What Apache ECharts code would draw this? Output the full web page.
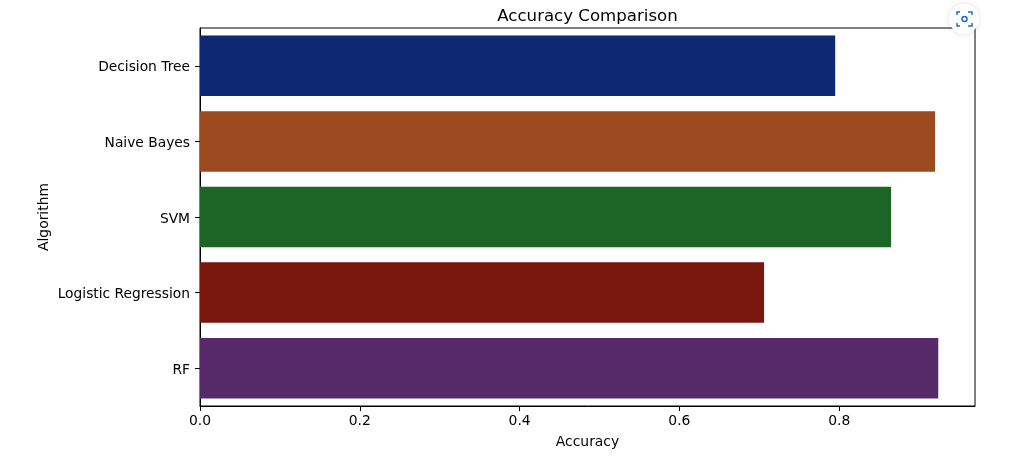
<!DOCTYPE html>
<html>
<head>
<meta charset="utf-8">
<style>
  html, body { margin: 0; padding: 0; background: #fff; }
  #chart { width: 1034px; height: 466px; }
</style>
<script src="https://cdn.jsdelivr.net/npm/echarts@6/dist/echarts.min.js"></script>
</head>
<body>
<div id="chart"></div>
<script>
  var algorithms = ['Decision Tree', 'Naive Bayes', 'SVM', 'Logistic Regression', 'RF'];
  var accuracy = [0.795, 0.920, 0.865, 0.706, 0.924];
  var barColors = ['#0e2873', '#9c4920', '#1d6525', '#79170f', '#562a68'];
  var font = 'DejaVu Sans';
  var iconBlue = '#1f6fc0';

  var chart = echarts.init(document.getElementById('chart'));
  chart.setOption({
    animation: false,
    title: {
      text: 'Accuracy Comparison',
      left: 582.5, top: 3, textAlign: 'center',
      textStyle: { fontFamily: font, fontSize: 16.6, fontWeight: 'normal', color: '#000' }
    },
    grid: { left: 200, top: 28, width: 775, height: 378, show: true, borderColor: '#000', borderWidth: 1, backgroundColor: 'transparent' },
    xAxis: {
      type: 'value', min: 0, max: 0.97, interval: 0.2,
      name: 'Accuracy', nameLocation: 'middle', nameGap: 29,
      nameTextStyle: { fontFamily: font, fontSize: 13.9, color: '#000' },
      axisLine: { show: true, lineStyle: { color: '#000', width: 1 } },
      axisTick: { show: true, length: 5, lineStyle: { color: '#000' } },
      axisLabel: { fontFamily: font, fontSize: 13.9, color: '#000', margin: 8,
        showMaxLabel: false,
        formatter: function (v) { return v.toFixed(1); } },
      splitLine: { show: false }
    },
    yAxis: {
      type: 'category', inverse: true, data: algorithms,
      name: 'Algorithm', nameLocation: 'middle', nameGap: 149, nameMoveOverlap: false,
      nameTextStyle: { fontFamily: font, fontSize: 13.9, color: '#000' },
      axisLine: { show: true, lineStyle: { color: '#000', width: 1 } },
      axisTick: { show: true, alignWithLabel: true, length: 5, lineStyle: { color: '#000' } },
      axisLabel: { color: '#000', margin: 10,
        formatter: function (v) { return '{a|' + v + '}'; },
        rich: { a: { fontFamily: font, fontSize: 13.8, color: '#000', padding: [4, 0, 0, 0] } } },
      splitLine: { show: false }
    },
    series: [{
      type: 'bar',
      barWidth: '80%',
      data: accuracy.map(function (v, i) {
        return { value: v, itemStyle: { color: barColors[i] } };
      })
    }],
    // the round screenshot button sitting on the top right corner
    graphic: [
      { type: 'circle', z: 100, shape: { cx: 964, cy: 19, r: 15 },
        style: { fill: '#fff', shadowBlur: 6, shadowColor: 'rgba(0,0,0,0.12)' } },
      { type: 'circle', z: 101, shape: { cx: 964.5, cy: 19, r: 2.5 },
        style: { fill: 'none', stroke: iconBlue, lineWidth: 1.5 } },
      { type: 'polyline', z: 101, shape: { points: [[957, 15], [957, 12], [960, 12]] },
        style: { fill: 'none', stroke: iconBlue, lineWidth: 1.5 } },
      { type: 'polyline', z: 101, shape: { points: [[968, 12], [972, 12], [972, 15]] },
        style: { fill: 'none', stroke: iconBlue, lineWidth: 1.5 } },
      { type: 'polyline', z: 101, shape: { points: [[972, 23], [972, 26], [968, 26]] },
        style: { fill: 'none', stroke: iconBlue, lineWidth: 1.5 } },
      { type: 'polyline', z: 101, shape: { points: [[960, 26], [957, 26], [957, 23]] },
        style: { fill: 'none', stroke: iconBlue, lineWidth: 1.5 } }
    ]
  });
</script>
</body>
</html>
